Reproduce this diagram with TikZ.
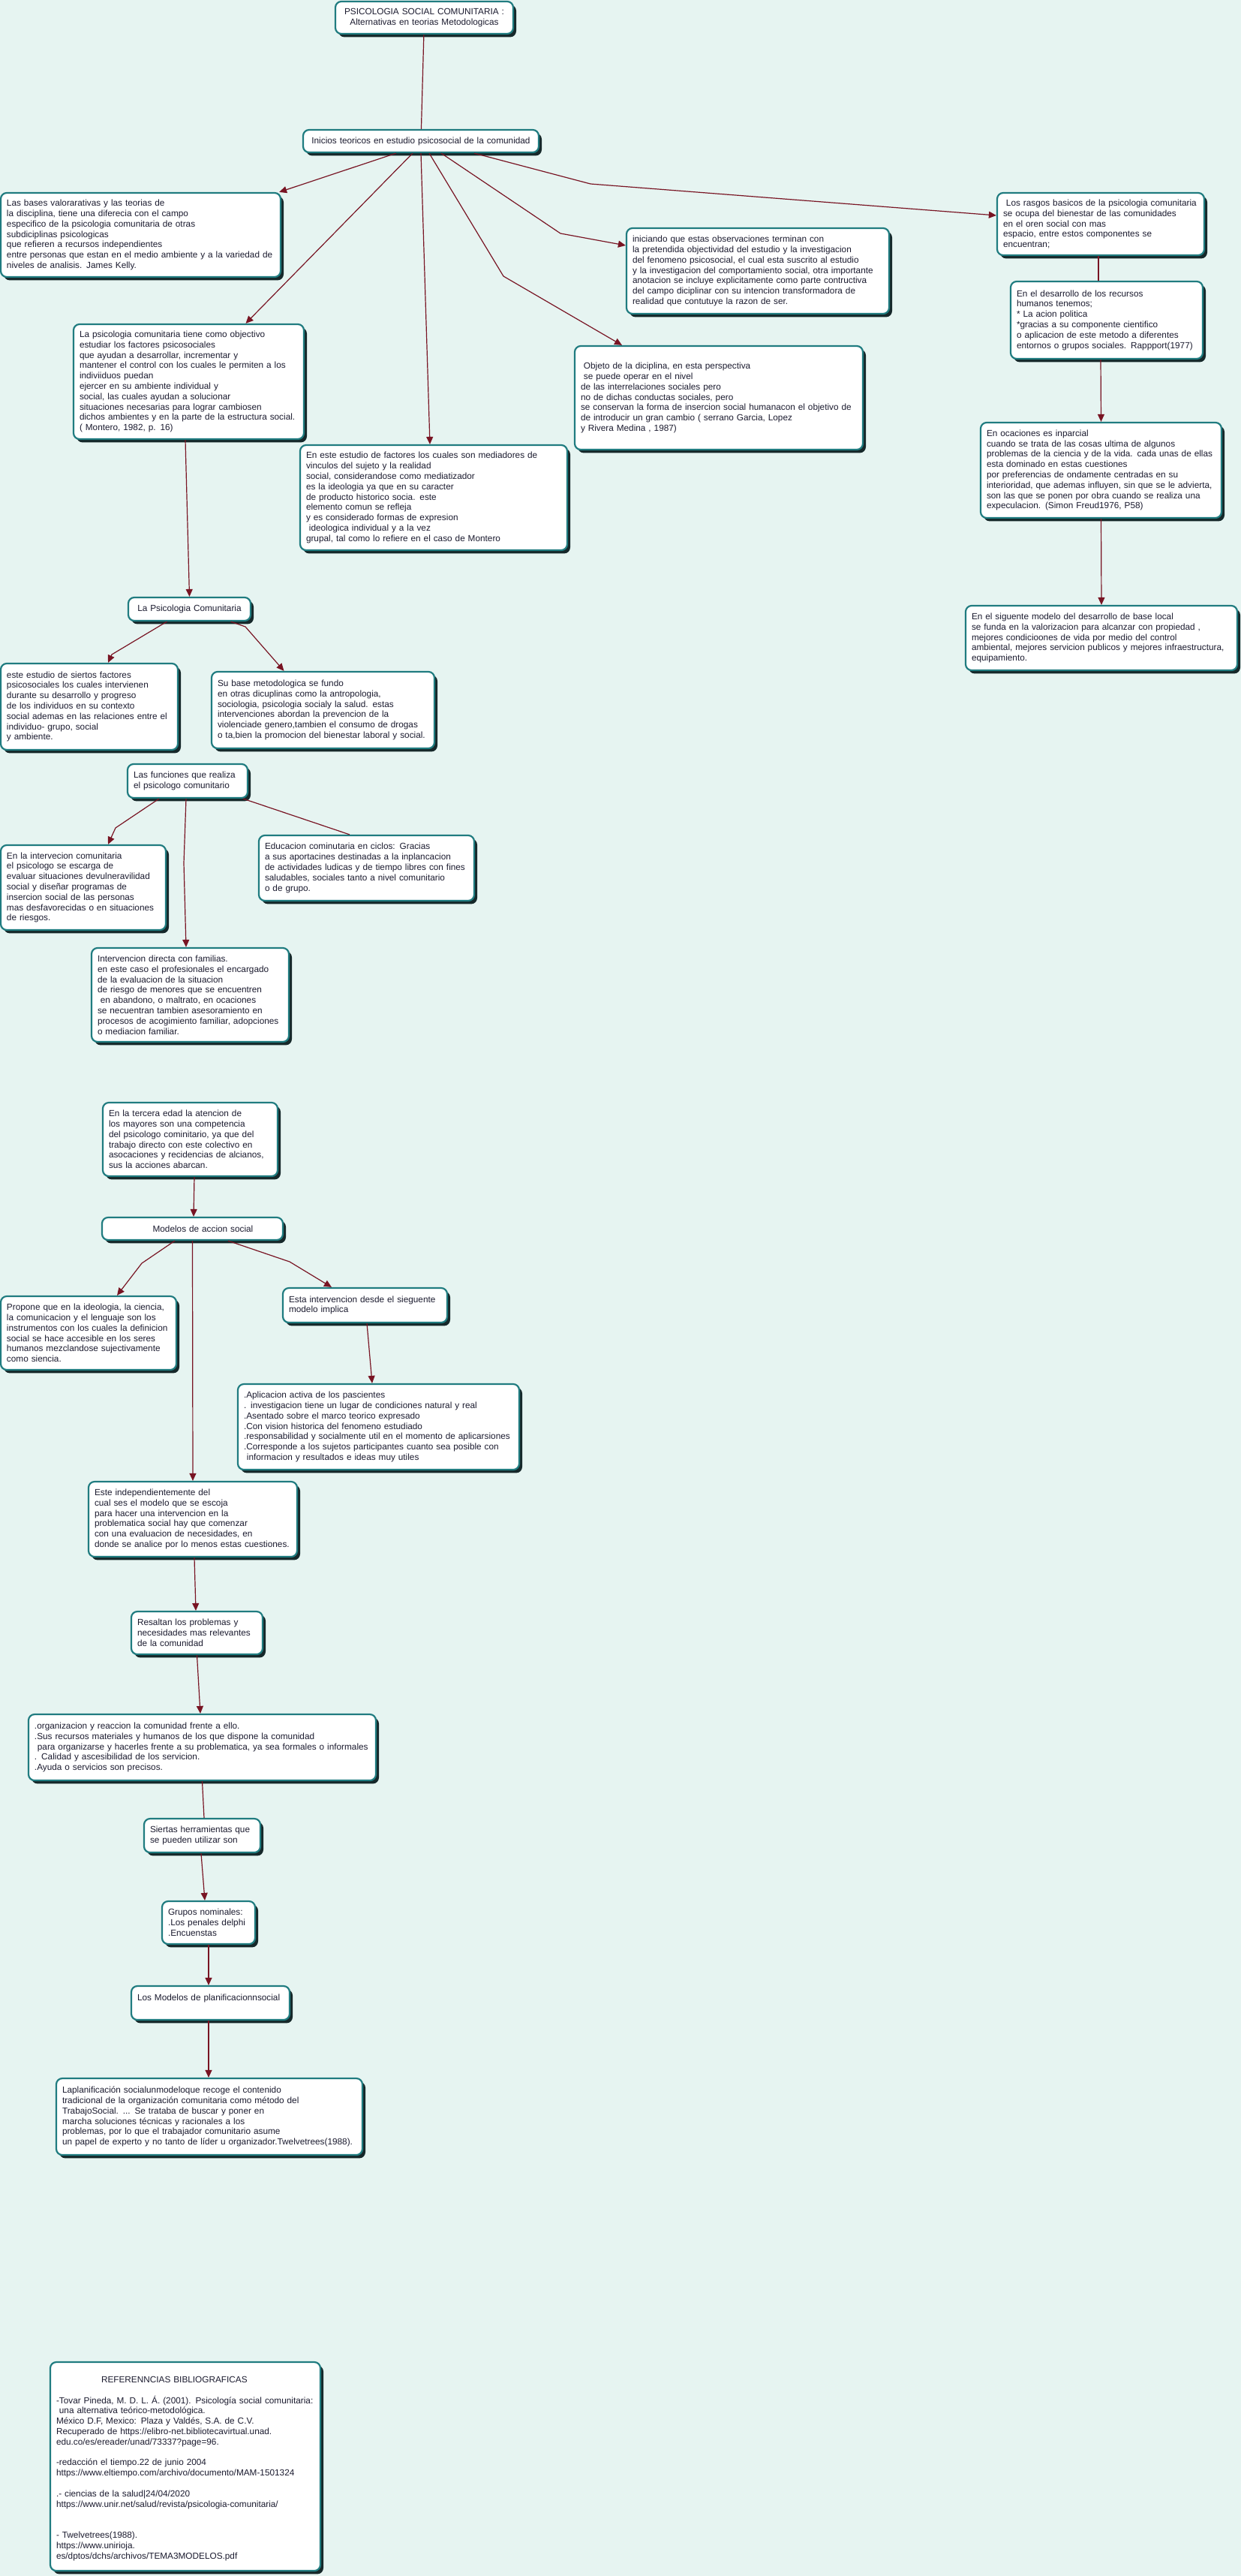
\documentclass[tikz,border=0pt]{standalone}
\usepackage{fontspec}
\setmainfont{Liberation Sans}
\usetikzlibrary{arrows.meta}
\usetikzlibrary{shadows}
\definecolor{fondo}{RGB}{230,244,241}
\definecolor{borde}{RGB}{32,124,128}
\definecolor{sombra}{RGB}{22,40,42}
\definecolor{enlace}{RGB}{120,20,35}
\definecolor{texto}{RGB}{28,28,48}
\setlength{\parindent}{0pt}

\begin{document}
\begin{tikzpicture}[x=1pt,y=-1pt,
		caja/.style={draw=borde, line width=1.1pt, fill=white, rounded corners=4pt,
			drop shadow={shadow xshift=2pt, shadow yshift=-2.2pt, fill=sombra, opacity=1},
			text=texto, font=\fontsize{5.9}{6.9}\selectfont, align=left,
			inner xsep=4pt, inner ysep=2pt},
		linea/.style={draw=enlace, line width=0.6pt},
		flecha/.style={linea, -{Triangle[length=5pt,width=4.5pt]}}]
				\fill[fondo] (0,0) rectangle (827,1716);
				\useasboundingbox (0,0) rectangle (827,1716);
				\begin{scope}[every node/.style={caja}]
					\node[minimum height=21.5pt, text width=110.5pt, align=center] (titulo) at (282.75,11.75) {PSICOLOGIA SOCIAL COMUNITARIA :\\ Alternativas en teorias Metodologicas};
					\node[minimum height=15pt, text width=149pt, align=center] (inicios) at (280.5,94) {Inicios teoricos en estudio psicosocial de la comunidad};
					\node[minimum height=56pt, text width=178.5pt] (bases) at (93.75,156.5) {Las bases valorarativas y las teorias de\\ la disciplina, tiene una diferecia con el campo\\ especifico de la psicologia comunitaria de otras\\ subdiciplinas psicologicas\\ que refieren a recursos independientes\\ entre personas que estan en el medio ambiente y a la variedad de\\ niveles de analisis. James Kelly.};
					\node[minimum height=41.5pt, text width=130pt] (rasgos) at (733.5,149.25) {\ Los rasgos basicos de la psicologia comunitaria\\ se ocupa del bienestar de las comunidades\\ en el oren social con mas\\ espacio, entre estos componentes se\\ encuentran;};
					\node[minimum height=57pt, text width=167pt] (iniciando) at (505,180.5) {iniciando que estas observaciones terminan con\\ la pretendida objectividad del estudio y la investigacion\\ del fenomeno psicosocial, el cual esta suscrito al estudio\\ y la investigacion del comportamiento social, otra importante\\ anotacion se incluye explicitamente como parte contructiva\\ del campo diciplinar con su intencion transformadora de\\ realidad que contutuye la razon de ser.};
					\node[minimum height=69pt, text width=184pt] (objeto) at (479,265) {\ Objeto de la diciplina, en esta perspectiva\\ \ se puede operar en  el nivel\\ de las interrelaciones sociales pero\\ no de dichas conductas sociales, pero\\ se conservan la forma de insercion social humanacon el objetivo de\\ de introducir un gran cambio ( serrano Garcia, Lopez\\ y Rivera Medina , 1987)};
					\node[minimum height=51.5pt, text width=120pt] (desarrollo) at (737.5,213.25) {En el desarrollo de los recursos\\ humanos tenemos;\\ {*} La acion politica\\ {*}gracias a su componente cientifico\\ o aplicacion de este metodo a diferentes\\ entornos o grupos sociales. Rappport(1977)};
					\node[minimum height=63.5pt, text width=152.5pt] (ocaciones) at (733.75,313.25) {En ocaciones es inparcial\\ cuando se trata de las cosas ultima de algunos\\ problemas de la ciencia y de la vida. cada unas de ellas\\ esta dominado en estas cuestiones\\ por preferencias de ondamente centradas en su\\ interioridad, que ademas influyen, sin que se le advierta,\\ son las que se ponen por obra cuando se realiza una\\ expeculacion. (Simon Freud1976, P58)};
					\node[minimum height=43pt, text width=173pt] (siguente) at (734,425) {En el siguente modelo del desarrollo de base local\\ se funda en la valorizacion para alcanzar con propiedad ,\\ mejores condicioones de vida por medio del control\\ ambiental, mejores servicion publicos y mejores infraestructura,\\ equipamiento.};
					\node[minimum height=76.5pt, text width=145.5pt] (objetivo) at (125.75,254.25) {La psicologia comunitaria tiene como objectivo\\ estudiar los factores psicosociales\\ que ayudan a desarrollar, incrementar y\\ mantener el control con los cuales le permiten a los\\ indiviiduos puedan\\ ejercer en su ambiente individual y\\ social,  las cuales ayudan a  solucionar\\ situaciones necesarias para lograr cambiosen\\ dichos ambientes y en la parte de la estructura social.\\ ( Montero, 1982, p. 16)};
					\node[minimum height=70pt, text width=170pt] (estudio) at (289,331.5) {En este estudio de factores los cuales son mediadores de\\ vinculos del sujeto y la realidad\\ social, considerandose como mediatizador\\ es la ideologia ya que en su caracter\\ de producto historico socia. este\\ elemento comun se refleja\\ y es considerado formas de expresion\\ \ ideologica individual y a la vez\\ grupal, tal como lo refiere en el caso de Montero};
					\node[minimum height=15.5pt, text width=73.5pt, align=center] (comunitaria) at (126.25,405.75) {La Psicologia  Comunitaria};
					\node[minimum height=57.5pt, text width=110pt] (factores) at (59.5,470.75) {este estudio de siertos factores\\ psicosociales los cuales intervienen\\ durante su desarrollo y progreso\\ de los individuos en su contexto\\ social ademas en las relaciones entre el\\ individuo- grupo, social\\ y ambiente.};
					\node[minimum height=51pt, text width=140.5pt] (base) at (215.25,473) {Su base metodologica  se fundo\\ en otras dicuplinas como la antropologia,\\ sociologia, psicologia socialy la salud. estas\\ intervenciones abordan la prevencion de la\\ violenciade genero,tambien el consumo de drogas\\ o ta,bien la promocion del bienestar laboral y social.};
					\node[minimum height=22.5pt, text width=72pt] (funciones) at (125,520.25) {Las funciones que realiza\\ el psicologo comunitario};
					\node[minimum height=43.5pt, text width=135.5pt] (educacion) at (244.25,578.25) {Educacion cominutaria en ciclos: Gracias\\ a sus aportacines destinadas  a la inplancacion\\ de actividades ludicas y de tiempo libres con fines\\ saludables, sociales tanto a nivel comunitario\\ o de grupo.};
					\node[minimum height=56.5pt, text width=102pt] (intervecion) at (55.5,591.25) {En la intervecion comunitaria\\ el psicologo se escarga de\\ evaluar situaciones devulneravilidad\\ social y diseñar programas de\\ insercion social de las personas\\ mas desfavorecidas o en situaciones\\ de riesgos.};
					\node[minimum height=62.5pt, text width=123.5pt] (directa) at (126.75,662.75) {Intervencion directa con familias.\\ en este caso el profesionales el encargado\\ de la evaluacion de la situacion\\ de riesgo de menores que se encuentren\\ \ en abandono, o maltrato, en ocaciones\\ se necuentran tambien asesoramiento en\\ procesos de acogimiento familiar, adopciones\\ o mediacion familiar.};
					\node[minimum height=49pt, text width=108.5pt] (tercera) at (126.75,759) {En la  tercera edad la atencion de\\ los mayores son una competencia\\ del psicologo cominitario, ya que del\\ trabajo directo con este colectivo en\\ asocaciones y recidencias de alcianos,\\ sus la acciones abarcan.};
					\node[minimum height=15pt, text width=112.5pt, align=center] (accion) at (128.25,818.5) {\hspace*{14pt}Modelos de accion social};
					\node[minimum height=49pt, text width=109pt] (propone) at (59,888) {Propone que en la ideologia, la ciencia,\\ la comunicacion y el lenguaje son los\\ instrumentos con los cuales la definicion\\ social se hace accesible en los seres\\ humanos mezclandose sujectivamente\\ como siencia.};
					\node[minimum height=23pt, text width=101.5pt] (implica) at (243.25,869.5) {Esta intervencion desde el sieguente\\ modelo implica};
					\node[minimum height=57pt, text width=179.5pt] (aplicacion) at (252.25,950.5) {.Aplicacion activa de los pascientes\\ . investigacion tiene un lugar de condiciones natural y real\\ .Asentado sobre el marco teorico expresado\\ .Con vision historica del fenomeno estudiado\\ .responsabilidad y socialmente util en el momento de aplicarsiones\\ .Corresponde a los sujetos participantes cuanto sea posible con\\ \ informacion y resultados e ideas muy  utiles};
					\node[minimum height=50pt, text width=131pt] (independiente) at (128.5,1012) {Este independientemente del\\ cual ses el modelo que se escoja\\ para hacer una intervencion en la\\ problematica social hay que comenzar\\ con una evaluacion de necesidades, en\\ donde se analice por lo menos estas cuestiones.};
					\node[minimum height=28.5pt, text width=79.5pt] (resaltan) at (131.25,1087.75) {Resaltan los problemas y\\ necesidades  mas relevantes\\ de la comunidad};
					\node[minimum height=44pt, text width=223.5pt] (organizacion) at (134.75,1164) {.organizacion y reaccion la comunidad frente a ello.\\ .Sus recursos materiales y humanos de los que dispone la comunidad\\ \ para organizarse y hacerles frente a su problematica, ya sea formales o informales\\ . Calidad y ascesibilidad de los servicion.\\ .Ayuda o servicios son precisos.};
					\node[minimum height=22.5pt, text width=69.5pt] (siertas) at (134.75,1222.75) {Siertas herramientas que\\ se pueden utilizar son};
					\node[minimum height=28.5pt, text width=54pt] (grupos) at (139,1280.75) {Grupos nominales:\\ .Los penales delphi\\ .Encuenstas};
					\node[minimum height=22.5pt, text width=97.5pt] (planificacion) at (140.25,1334.25) {Los Modelos de planificacionnsocial\\ \mbox{}};
					\node[minimum height=51pt, text width=196pt] (laplanificacion) at (139.5,1410) {Laplanificación socialunmodeloque recoge el contenido\\ tradicional de la organización comunitaria como método del\\ TrabajoSocial. ... Se trataba de buscar y poner en\\ marcha soluciones técnicas y racionales a los\\ problemas, por lo que el trabajador comunitario asume\\ un papel de experto y no tanto de líder u organizador.Twelvetrees(1988).};
					\node[minimum height=139pt, text width=172pt] (referencias) at (123.5,1643) {\mbox{}\\ \hspace*{30pt}REFERENNCIAS BIBLIOGRAFICAS\\ \mbox{}\\ -Tovar Pineda, M. D. L. Á. (2001). Psicología social comunitaria:\\ \ una alternativa teórico-metodológica.\\ México D.F, Mexico: Plaza y Valdés, S.A. de C.V.\\ Recuperado de https://elibro-net.bibliotecavirtual.unad.\\ edu.co/es/ereader/unad/73337?page=96.\\ \mbox{}\\ -redacción el tiempo.22 de junio 2004\\ https://www.eltiempo.com/archivo/documento/MAM-1501324\\ \mbox{}\\ .- ciencias de la salud|24/04/2020\\ https://www.unir.net/salud/revista/psicologia-comunitaria/\\ \mbox{}\\ \mbox{}\\ - Twelvetrees(1988).\\ https://www.unirioja.\\ es/dptos/dchs/archivos/TEMA3MODELOS.pdf};
				\end{scope}
				\coordinate (kObjeto) at (335.5,184);
				\coordinate (kIniciando) at (373.5,155.5);
				\coordinate (kRasgos) at (393.5,122.5);
				\coordinate (kFactores) at (74.5,436);
				\coordinate (kBase) at (163.5,417.5);
				\coordinate (kIntervecion) at (77,551.5);
				\coordinate (kDirecta) at (122.5,575);
				\coordinate (kPropone) at (94.5,841.5);
				\coordinate (kImplica) at (193,840.5);
				\draw [linea] (titulo) -- (inicios);
				\draw [flecha] ([xshift=-16.5pt]inicios.south) -- ([xshift=-1.5pt]bases.north east);
				\draw [flecha] ([xshift=-5.5pt]inicios.south) -- ([xshift=38pt]objetivo.north);
				\draw [flecha] (inicios.south) -- ([xshift=-2.5pt]estudio.north);
				\draw [flecha] ([xshift=5.5pt]inicios.south) -- (kObjeto) -- ([xshift=-64.5pt]objeto.north);
				\draw [flecha] ([xshift=13.5pt]inicios.south) -- (kIniciando) -- ([yshift=17pt]iniciando.west);
				\draw [flecha] ([xshift=35.5pt]inicios.south) -- (kRasgos) -- ([yshift=5.75pt]rasgos.west);
				\draw [linea] ([xshift=-1.5pt]rasgos.south) -- ([xshift=-5.5pt]desarrollo.north);
				\draw [flecha] ([xshift=-4pt]desarrollo.south) -- (ocaciones.north);
				\draw [flecha] (ocaciones.south) -- (siguente.north);
				\draw [flecha] ([xshift=-2.25pt]objetivo.south) -- (comunitaria.north);
				\draw [flecha] ([xshift=-15pt]comunitaria.south) -- (kFactores) -- ([xshift=12.5pt]factores.north);
				\draw [flecha] ([xshift=27.5pt]comunitaria.south) -- (kBase) -- ([xshift=-26pt]base.north);
				\draw [flecha] ([xshift=-19pt]funciones.south) -- (kIntervecion) -- ([xshift=16.5pt]intervecion.north);
				\draw [flecha] ([xshift=-1pt]funciones.south) -- (kDirecta) -- ([xshift=-2.75pt]directa.north);
				\draw [linea] ([xshift=37pt]funciones.south) -- ([xshift=-11.25pt]educacion.north);
				\draw [flecha] ([xshift=2.75pt]tercera.south) -- ([xshift=0.75pt]accion.north);
				\draw [flecha] ([xshift=-11.75pt]accion.south) -- (kPropone) -- ([xshift=19pt]propone.north);
				\draw [flecha] (accion.south) -- (independiente.north);
				\draw [flecha] ([xshift=23.75pt]accion.south) -- (kImplica) -- ([xshift=-22.25pt]implica.north);
				\draw [flecha] ([xshift=1.25pt]implica.south) -- ([xshift=-4.25pt]aplicacion.north);
				\draw [flecha] ([xshift=1pt]independiente.south) -- ([xshift=-0.75pt]resaltan.north);
				\draw [flecha] (resaltan.south) -- ([xshift=-1.25pt]organizacion.north);
				\draw [linea] (organizacion.south) -- ([xshift=1.25pt]siertas.north);
				\draw [flecha] ([xshift=-0.75pt]siertas.south) -- ([xshift=-2.5pt]grupos.north);
				\draw [flecha] (grupos.south) -- ([xshift=-1.25pt]planificacion.north);
				\draw [flecha] ([xshift=-1.25pt]planificacion.south) -- ([xshift=-0.5pt]laplanificacion.north);
\end{tikzpicture}
\end{document}
